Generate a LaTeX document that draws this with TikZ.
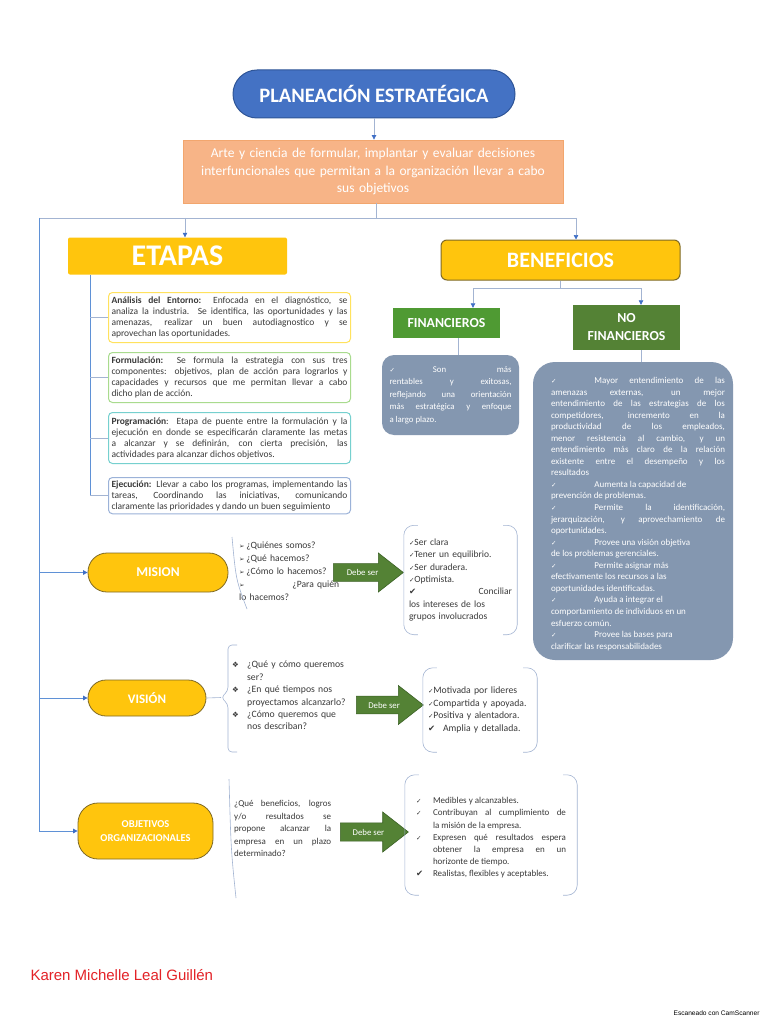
\documentclass[tikz,border=0pt]{standalone}
\usepackage{fontspec}
\setmainfont{Carlito}
\newfontfamily\simbolos{DejaVu Sans}
\newfontfamily\firma{Liberation Sans}
\usetikzlibrary{positioning}
\usetikzlibrary{shapes.arrows}
\usetikzlibrary{arrows.meta}

\definecolor{azultitulo}{HTML}{4472C4}
\definecolor{bordetitulo}{HTML}{2F5597}
\definecolor{naranja}{HTML}{F7B487}
\definecolor{bordenaranja}{HTML}{F2A66E}
\definecolor{oro}{HTML}{FFC50D}
\definecolor{bordeoro}{HTML}{7F6A25}
\definecolor{verdefin}{HTML}{4F9A33}
\definecolor{verdeno}{HTML}{548235}
\definecolor{bordeverde}{HTML}{3B6125}
\definecolor{pizarra}{HTML}{8497B0}
\definecolor{linea}{HTML}{A3B4D2}
\definecolor{azultronco}{HTML}{5F91D6}
\definecolor{azulpunta}{HTML}{3F6FC6}
\definecolor{texto}{HTML}{3A3A3A}
\definecolor{amarillo}{HTML}{FFE25E}
\definecolor{verdeclaro}{HTML}{A9DB8E}
\definecolor{turquesa}{HTML}{76D0CF}
\definecolor{azulclaro}{HTML}{9BB2D8}
\definecolor{rojo}{HTML}{E32227}

\hbadness=10000
\parskip=0pt
\newcommand{\chk}{{\simbolos\fontsize{6.5}{8}\selectfont ✓}}
\newcommand{\chkg}{{\simbolos\fontsize{8.5}{8}\selectfont ✔}}
\newcommand{\flecha}{{\simbolos\fontsize{6.5}{8}\selectfont ➢}}
\newcommand{\rombo}{{\simbolos\fontsize{7.5}{8}\selectfont ❖}}
\newcommand{\punto}[2][\chk]{\par\hangindent=17pt\hangafter=1\noindent\makebox[17pt][l]{#1}#2\par}

\begin{document}
\begin{tikzpicture}[x=1pt,y=-1pt,
  flechita/.tip={Triangle[length=4.5pt,width=4.5pt,color=azulpunta]},
  conector/.style={draw=linea,line width=0.7pt},
  tronco/.style={draw=azultronco,line width=0.9pt},
  corchete/.style={draw=linea,line width=0.6pt},
  etapa/.style={draw=#1,line width=1pt,rounded corners=4pt,anchor=north west,text width=236pt,inner sep=3pt,align=justify,text=texto,font=\fontsize{9.5}{11}\selectfont},
  pastilla/.style={fill=oro,draw=bordeoro,line width=0.8pt,text=white,font=\bfseries\fontsize{13.5}{15}\selectfont},
  debe/.style={single arrow,fill=verdeno,draw=bordeverde,line width=0.6pt,anchor=tail,minimum height=#1,minimum width=39pt,single arrow head extend=8pt,single arrow tip angle=76,text=white,font=\fontsize{8.8}{10}\selectfont},
  lista/.style={text=texto,font=\fontsize{9.5}{12.4}\selectfont,align=left},
  tarjeta/.style={fill=pizarra,rounded corners=#1,text=white}]

\fill [white] (0,0) rectangle (768,1024);
\useasboundingbox (0,0) rectangle (768,1024);

%% cabecera
\node (titulo) at (374,94) [fill=azultitulo,draw=bordetitulo,line width=1pt,rounded corners=24pt,minimum width=282pt,minimum height=48pt,text=white,font=\bfseries\fontsize{20.5}{22}\selectfont] {PLANEACIÓN ESTRATÉGICA};
\node (arte) at (373,171.5) [fill=naranja,draw=bordenaranja,line width=0.8pt,minimum width=380pt,minimum height=63pt,text width=372pt,align=center,text=white,font=\fontsize{13.5}{17.5}\selectfont] {Arte y ciencia de formular, implantar y evaluar decisiones\\ interfuncionales que permitan a la organización llevar a cabo\\ sus objetivos};

%% etapas
\node (etapas) at (177.5,256) [fill=oro,rounded corners=2pt,minimum width=219pt,minimum height=37pt,text=white,font=\bfseries\fontsize{30}{32}\selectfont] {ETAPAS};
\node (analisis) [etapa=amarillo,minimum height=50pt] at (108,292) {\textbf{Análisis del Entorno:} Enfocada en el diagnóstico, se\linebreak analiza la industria. Se identifica, las oportunidades y las\linebreak amenazas, realizar un buen autodiagnostico y se\linebreak aprovechan las oportunidades.};
\node (formulacion) [etapa=verdeclaro,minimum height=50pt] at (108,352) {\textbf{Formulación:} Se formula la estrategia con sus tres\linebreak componentes: objetivos, plan de acción para lograrlos y\linebreak capacidades y recursos que me permitan llevar a cabo\linebreak dicho plan de acción.};
\node (programacion) [etapa=turquesa,minimum height=51pt] at (108,412) {\textbf{Programación}:\ \ Etapa de puente entre la formulación y la\linebreak ejecución en donde se especificarán claramente las metas\linebreak a alcanzar y se definirán, con cierta precisión, las\linebreak actividades para alcanzar dichos objetivos.};
\node (ejecucion) [etapa=azulclaro,minimum height=36pt] at (108,477) {\textbf{Ejecución:} Llevar a cabo los programas, implementando las\linebreak tareas, Coordinando las iniciativas, comunicando\linebreak claramente las prioridades y dando un buen seguimiento};

%% beneficios
\node (beneficios) at (560.5,260) [fill=oro,draw=bordeoro,line width=1pt,rounded corners=6pt,minimum width=239pt,minimum height=40pt,text=white,font=\bfseries\fontsize{22}{24}\selectfont] {BENEFICIOS};
\node (financieros) at (446.5,323) [fill=verdefin,minimum width=107pt,minimum height=30pt,text=white,font=\bfseries\fontsize{13.8}{15}\selectfont] {FINANCIEROS};
\node (nofinancieros) at (626.5,327.5) [fill=verdeno,minimum width=107pt,minimum height=45pt,align=center,text=white,font=\bfseries\fontsize{13.8}{18}\selectfont] {NO\\FINANCIEROS};
\node (finCaja) [tarjeta=12pt,minimum width=137pt,minimum height=80pt,text width=122pt,align=justify,font=\fontsize{8.8}{12.5}\selectfont] at (450.5,395) {\chk\hspace*{38pt}Son\hfill más\\ rentables y exitosas,\linebreak reflejando una orientación\linebreak más estratégica y enfoque\linebreak a largo plazo.};
\node (noFinCaja) [tarjeta=22pt,minimum width=200pt,minimum height=298pt] at (633,511) {};
\begin{scope}
\clip (536,366) rectangle (730,650);
\node (noFinLista) [text=white,text width=174pt,align=justify,anchor=north,inner sep=0pt,font=\fontsize{9}{11.55}\selectfont] at (638,377) {\chk\hspace*{38pt}Mayor entendimiento de las\linebreak
amenazas externas, un mejor\linebreak
entendimiento de las estrategias de los\linebreak
competidores, incremento en la\linebreak
productividad de los empleados,\linebreak
menor resistencia al cambio, y un\linebreak
entendimiento más claro de la relación\linebreak
existente entre el desempeño y los\linebreak
resultados\\
\chk\hspace*{38pt}Aumenta la capacidad de\\
prevención de problemas.\\
\chk\hspace*{38pt}Permite la identificación,\linebreak
jerarquización, y aprovechamiento de\linebreak
oportunidades.\\
\chk\hspace*{38pt}Provee una visión objetiva\\
de los problemas gerenciales.\\
\chk\hspace*{38pt}Permite asignar más\\
efectivamente los recursos a las\\
oportunidades identificadas.\\
\chk\hspace*{38pt}Ayuda a integrar el\\
comportamiento de individuos en un\\
esfuerzo común.\\
\chk\hspace*{38pt}Provee las bases para\\
clarificar las responsabilidades};
\end{scope}

%% mision
\node (mision) at (158,572.5) [pastilla,rounded corners=19pt,minimum width=140pt,minimum height=39pt] {MISION};
\node (preguntasM) [lista,text width=100pt,anchor=north west,inner sep=0pt,font=\fontsize{9.6}{13}\selectfont] at (239,542) {\flecha\,¿Quiénes somos?\\ \flecha\,¿Qué hacemos?\\ \flecha\,¿Cómo lo hacemos?\\ \flecha\hfill¿Para quién\hspace*{8pt}\\ lo hacemos?};
\node (debeM) [debe=70pt] at (333,572.5) {Debe ser};
\node (resM) [lista,minimum width=113pt,minimum height=109pt,text width=103pt,inner sep=5pt] at (460.5,580) {\chk Ser clara\\ \chk Tener un equilibrio.\\ \chk Ser duradera.\\ \chk Optimista.\\ \chkg\hfill Conciliar\hspace*{14pt}\\ los intereses de los\\ grupos involucrados};
\draw [corchete] (232,537) .. controls (236,580) .. (247,609);

%% vision
\node (vision) at (147,698) [pastilla,rounded corners=18pt,minimum width=118pt,minimum height=36pt,font=\bfseries\fontsize{13}{15}\selectfont] {VISIÓN};
\node (preguntasV) [lista,text width=120pt,anchor=north west,inner sep=0pt,font=\fontsize{9.7}{12.4}\selectfont] at (232,661) {\makebox[15pt][l]{\rombo}¿Qué y cómo queremos\\ \hspace*{15pt}ser?\\ \makebox[15pt][l]{\rombo}¿En qué tiempos nos\\ \hspace*{15pt}proyectamos alcanzarlo?\\ \makebox[15pt][l]{\rombo}¿Cómo queremos que\\ \hspace*{15pt}nos describan?};
\node (debeV) [debe=67pt] at (356,705) {Debe ser};
\node (resV) [lista,minimum width=114pt,minimum height=84pt,text width=104pt,inner sep=5pt,font=\fontsize{9.7}{12.6}\selectfont] at (480,710) {\chk Motivada por lideres\\ \chk Compartida y apoyada.\\ \chk Positiva y alentadora.\\ \chkg\hspace*{8pt}Amplia y detallada.};
\coordinate (llaveV) at (221,697.5);
\draw [corchete,rounded corners=4pt] (237,645) -- (228,645) -- (228,691) -- (llaveV) -- (228,704) -- (228,752) -- (237,752);
\draw [corchete] (vision.east) -- (llaveV);

%% objetivos
\node (objetivos) at (145.5,831) [pastilla,rounded corners=20pt,minimum width=135pt,minimum height=56pt,align=center,font=\bfseries\fontsize{10.5}{14}\selectfont] {OBJETIVOS\\ORGANIZACIONALES};
\node (preguntasO) [lista,align=justify,text width=97pt,anchor=north west,inner sep=0pt,font=\fontsize{9}{12.6}\selectfont] at (234,800) {¿Qué beneficios, logros\linebreak y/o resultados se\linebreak propone alcanzar la\linebreak empresa en un plazo\linebreak determinado?};
\node (debeO) [debe=68pt,minimum width=40pt] at (340,832) {Debe ser};
\node (resO) [lista,align=justify,minimum width=172pt,minimum height=120pt,text width=150pt,inner sep=6pt,font=\fontsize{9}{12.2}\selectfont] at (491,835) {\punto{Medibles y alcanzables.}\punto{Contribuyan al cumplimiento de\linebreak la misión de la empresa.}\punto{Expresen qué resultados espera\linebreak obtener la empresa en un\linebreak horizonte de tiempo.}\punto[\chkg]{Realistas, flexibles y aceptables.}};
\draw [corchete] (229,779) .. controls (231,850) .. (236,898);

\foreach \r in {resM,resV,resO} {
  \draw [corchete,rounded corners=10pt] ([xshift=14pt]\r.north west) -- (\r.north west) -- (\r.south west) -- ([xshift=14pt]\r.south west);
  \draw [corchete,rounded corners=10pt] ([xshift=-14pt]\r.north east) -- (\r.north east) -- (\r.south east) -- ([xshift=-14pt]\r.south east);
}

%% conectores
\coordinate (rama) at (376,218);
\coordinate (bIzq) at (39,218);
\coordinate (bEta) at (185,218);
\coordinate (bBen) at (576,218);
\coordinate (tEta) at (90,274.5);
\coordinate (bFin) at (473,288);
\coordinate (bNo) at (641,288);
\coordinate (bajaFin) at (458,338);
\draw [conector] [-flechita] (titulo.south) -- (titulo.south |- arte.north);
\draw [conector] (arte.south -| rama) -- (rama);
\draw [conector] (bIzq) -- (bBen);
\draw [conector] [-flechita] (bEta) -- (bEta |- etapas.north);
\draw [conector] [-flechita] (bBen) -- (bBen |- beneficios.north);
\draw [tronco] (bIzq) -- (bIzq |- objetivos.west);
\foreach \p in {mision,vision,objetivos}
  \draw [tronco] [-flechita] (bIzq |- \p.west) -- (\p.west);
\draw [tronco] (tEta) -- (tEta |- ejecucion.west);
\foreach \e in {analisis,formulacion,programacion,ejecucion}
  \draw [conector] (tEta |- \e.west) -- (\e.west);
\draw [conector] (beneficios.south) -- (beneficios.south |- bFin);
\draw [conector] (bFin) -- (bNo);
\draw [conector] [-flechita] (bFin) -- (bFin |- financieros.north);
\draw [conector] [-flechita] (bNo) -- (bNo |- nofinancieros.north);
\draw [conector] (bajaFin) -- (bajaFin |- finCaja.north);
\draw [conector] (bNo |- nofinancieros.south) -- (bNo |- noFinCaja.north);

%% pie
\node (autora) [anchor=west,text=rojo,font=\firma\fontsize{15}{17}\selectfont] at (27,975) {Karen Michelle Leal Guillén};
\node (escaneo) [anchor=east,text=black,font=\firma\fontsize{6.6}{8}\selectfont] at (763,1013) {Escaneado con CamScanner};
\end{tikzpicture}
\end{document}
